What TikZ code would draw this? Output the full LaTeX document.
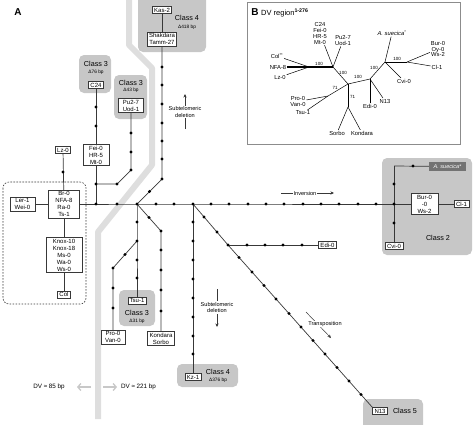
\documentclass[tikz,border=0pt]{standalone}
\usepackage{fontspec}
\setmainfont{Liberation Sans}
\usetikzlibrary{arrows.meta}

\definecolor{classgray}{gray}{0.78}
\definecolor{bandgray}{gray}{0.87}
\definecolor{linegray}{gray}{0.22}
\definecolor{suecgray}{gray}{0.45}
\definecolor{framegray}{gray}{0.55}

\begin{document}
\begin{tikzpicture}[x=1pt, y=-1pt,
  strain/.style={draw=linegray, fill=white, line width=0.5pt, inner xsep=1.8pt, inner ysep=1.2pt,
    align=center, font=\fontsize{6}{7}\selectfont},
  classbox/.style={fill=classgray, rounded corners=5pt},
  classname/.style={inner sep=0pt, font=\fontsize{7.2}{8}\selectfont},
  deltaname/.style={inner sep=0pt, font=\fontsize{4.8}{5}\selectfont},
  branch/.style={draw=linegray, line width=0.7pt},
  dashbox/.style={draw=linegray, line width=0.6pt, dash pattern=on 1.6pt off 1.4pt, rounded corners=6pt},
  event/.style={linegray, line width=0.5pt, -{Stealth[length=3.6pt,width=3.2pt]}},
  eventname/.style={fill=white, inner sep=0.8pt, align=center, font=\fontsize{5.6}{6.6}\selectfont},
  dvarrow/.style={bandgray!90!black, line width=1.3pt, -{Straight Barb[length=3pt,width=7pt]}},
  dvname/.style={inner sep=0pt, font=\fontsize{6.3}{7}\selectfont},
  leaf/.style={inner sep=0.8pt, align=center, font=\fontsize{5.8}{5.8}\selectfont},
  twig/.style={draw=black, line width=0.5pt},
  boot/.style={inner sep=0pt, font=\fontsize{4.5}{5}\selectfont},
]
  \useasboundingbox (0,0) rectangle (474,424);

  %% grey band between the two DV groups
  \draw[bandgray, line width=6pt, line join=round]
    (129,-4) -- (129,45) -- (152,68) -- (152,165) -- (98,232) -- (98,419);

  %% class backgrounds
  \fill[classbox] (79,55) rectangle (111,93);     %% Class 3, C24
  \fill[classbox] (114,75) rectangle (147,119);   %% Class 3, Pu2-7
  \fill[classbox] (138,-6) rectangle (206,52);    %% Class 4, Kas-2
  \fill[classbox] (119,290) rectangle (155,326);  %% Class 3, Tsu-1
  \fill[classbox] (177,364) rectangle (238,387);  %% Class 4, Kz-1
  \fill[classbox] (382,158) rectangle (472,255);  %% Class 2
  \fill[classbox] (363,399) rectangle (423,430);  %% Class 5
  \draw[dashbox] (3,182) rectangle (86,304);

  \node[inner sep=0pt, font=\bfseries\fontsize{10}{10}\selectfont] (labA) at (18,12) {A};

  %% strain boxes
  \node[strain, minimum width=31pt] (brbox) at (64,204) {Br-0\\NFA-8\\Ra-0\\Ts-1};
  \node[strain, minimum width=25pt] (lerbox) at (22.5,204) {Ler-1\\Wei-0};
  \node[strain] (lzbox) at (63,150) {Lz-0};
  \node[strain, minimum width=36pt] (knoxbox) at (64,255) {Knox-10\\Knox-18\\Ms-0\\Wa-0\\Ws-0};
  \node[strain] (colbox) at (64,294.5) {Col};
  \node[strain, minimum width=26pt] (feibox) at (96,155) {Fei-0\\HR-5\\Mt-0};
  \node[strain] (c24box) at (96,85) {C24};
  \node[strain, minimum width=25pt] (pubox) at (131,105.5) {Pu2-7\\Uod-1};
  \node[strain] (kasbox) at (162,10) {Kas-2};
  \node[strain] (shakbox) at (162,39) {Shakdara\\Tamm-27};
  \node[strain] (tsubox) at (137,300.5) {Tsu-1};
  \node[strain, minimum width=24pt] (probox) at (113,337) {Pro-0\\Van-0};
  \node[strain, minimum width=27pt] (kondbox) at (161,338.5) {Kondara\\Sorbo};
  \node[strain] (kzbox) at (193,377) {Kz-1};
  \node[strain] (edibox) at (327.5,245) {Edi-0};
  \node[strain] (n13box) at (380,411) {N13};
  \node[strain, minimum width=27pt] (burbox) at (424.5,204) {Bur-0\\-0\\Ws-2};
  \node[strain] (clbox) at (461.5,204) {Cl-1};
  \node[strain] (cvibox) at (394,246) {Cvi-0};
  \node[strain, draw=none, fill=suecgray, text=white, minimum width=37pt, minimum height=9pt,
    font=\itshape\fontsize{5.5}{6}\selectfont] (suecbox) at (447.5,166.5) {A. suecica*};

  %% class names
  \node[classname] (c3a) at (96,64) {Class 3};
  \node[deltaname] (d3a) at (96,72) {Δ76 bp};
  \node[classname] (c3b) at (131,83) {Class 3};
  \node[deltaname] (d3b) at (131,90.5) {Δ43 bp};
  \node[classname] (c4a) at (187,18) {Class 4};
  \node[deltaname] (d4a) at (187,27) {Δ418 bp};
  \node[classname] (c3c) at (137,313) {Class 3};
  \node[deltaname] (d3c) at (137,321) {Δ31 bp};
  \node[classname] (c4b) at (218,372) {Class 4};
  \node[deltaname] (d4b) at (218,380) {Δ376 bp};
  \node[classname] (c2) at (438,238) {Class 2};
  \node[classname] (c5) at (405,411) {Class 5};

  %% junctions and bends
  \coordinate (j1) at (137,204);
  \coordinate (j2) at (193,204);
  \coordinate (j3) at (394,204);
  \coordinate (feifoot) at (96,204);
  \coordinate (feiknee) at (96,184);
  \coordinate (pubend) at (117,184);
  \coordinate (puelbow) at (131,170);
  \coordinate (shakbend) at (162,179);
  \coordinate (kondknee) at (161,231);
  \coordinate (tsufork) at (137,241);
  \coordinate (proknee) at (113,268);
  \coordinate (edifork) at (228,245);
  \coordinate (suectop) at (394,166);

  %% connectors
  \draw[branch] (lerbox) -- (brbox);
  \draw[branch] (lzbox) -- (brbox);
  \draw[branch] (brbox) -- (knoxbox);
  \draw[branch] (knoxbox) -- (colbox);
  \draw[branch] (brbox) -- (j1) -- (j2) -- (j3);
  \draw[branch] (c24box) -- (feibox);
  \draw[branch] (feibox) -- (feifoot);
  \draw[branch] (feiknee) -- (pubend) -- (puelbow) -- (pubox);
  \draw[branch] (kasbox) -- (shakbox);
  \draw[branch] (shakbox) -- (shakbend) -- (j1);
  \draw[branch] (j1) -- (kondknee) -- (kondbox);
  \draw[branch] (j1) -- (tsufork) -- (tsubox);
  \draw[branch] (tsufork) -- (proknee) -- (probox);
  \draw[branch] (j2) -- (kzbox);
  \draw[branch] (j2) -- (edifork) -- (n13box.north west);
  \draw[branch] (edifork) -- (edibox);
  \draw[branch] (suectop) -- (cvibox);
  \draw[branch] (suectop) -- (suecbox);
  \draw[branch] (j3) -- (burbox) -- (clbox);

  %% mutation steps
  \foreach \x in {96,117,137,156,174,193,211,229,248,266,284,303,321,339,358,376,394}
    \fill (\x,204) circle (1.6pt);
  \foreach \y in {107,126,184} \fill (96,\y) circle (1.6pt);
  \foreach \y in {67,85,104,123,141,159,179} \fill (162,\y) circle (1.6pt);
  \foreach \y in {231,250,270,290,311} \fill (161,\y) circle (1.6pt);
  \foreach \y in {222,241,260,278} \fill (137,\y) circle (1.6pt);
  \foreach \y in {268,288,308} \fill (113,\y) circle (1.6pt);
  \foreach \y in {222,241,260,279,298,317,336,354} \fill (193,\y) circle (1.6pt);
  \foreach \x in {247,265,283,302} \fill (\x,245) circle (1.6pt);
  \foreach \x/\y in {63/172, 117/184, 131/170, 131/152, 131/133, 149.5/191.5, 149/217.5,
      125/254.5, 204/217, 217/232, 228/245, 239/257.5, 252/272, 264/285.5, 276/299,
      289/313.5, 301/327, 313/340.5, 325/354, 337/367.5, 349/381, 361/394.5,
      394/184, 394/223, 413/166}
    \fill (\x,\y) circle (1.6pt);

  %% events
  \coordinate (delupA) at (185,129);
  \coordinate (delupB) at (185,94);
  \draw[event] (delupA) -- (delupB);
  \node[eventname] (delupT) at (185,112) {Subtelomeric\\deletion};
  \coordinate (deldnA) at (217,289);
  \coordinate (deldnB) at (217,327);
  \draw[event] (deldnA) -- (deldnB);
  \node[eventname] (deldnT) at (217,307.5) {Subtelomeric\\deletion};
  \coordinate (invA) at (281,193);
  \coordinate (invB) at (334,193);
  \draw[event] (invA) -- (invB);
  \node[eventname] (invT) at (305,193) {Inversion};
  \coordinate (trA) at (306,312);
  \coordinate (trB) at (331,338);
  \draw[event] (trA) -- (trB);
  \node[eventname] (trT) at (325,324) {Transposition};

  %% DV groups
  \coordinate (dvlA) at (91,387);
  \coordinate (dvlB) at (77,387);
  \coordinate (dvrA) at (103,387);
  \coordinate (dvrB) at (117,387);
  \draw[dvarrow] (dvlA) -- (dvlB);
  \draw[dvarrow] (dvrA) -- (dvrB);
  \node[dvname] (dvl) at (49,387) {DV ≈ 85 bp};
  \node[dvname] (dvr) at (138.5,387) {DV ≈ 221 bp};

  %% panel B
  \draw[framegray, line width=0.9pt] (247,2) rectangle (460,144);
  \node[inner sep=0pt, font=\bfseries\fontsize{10}{10}\selectfont] (labB) at (255,12) {B};
  \node[inner sep=0pt, anchor=west, font=\fontsize{7.5}{8}\selectfont] (dvreg) at (261,13)
    {DV region\textsuperscript{\textbf{1-276}}};

  \coordinate (t1) at (309,67);
  \coordinate (t2) at (333,67);
  \coordinate (t3) at (348,84);
  \coordinate (t4) at (370,79);
  \coordinate (t5) at (328,96);
  \coordinate (t6) at (348,107);
  \coordinate (t7) at (385,62);
  \coordinate (t8) at (407,62);

  \node[leaf] (colL) at (277,56) {Col\textsuperscript{**}};
  \node[leaf] (nfaL) at (278,67) {NFA-8};
  \node[leaf] (lzL) at (280,77) {Lz-0};
  \node[leaf] (c24L) at (320,33.5) {C24\\Fei-0\\HR-5\\Mt-0};
  \node[leaf] (puL) at (343,40.5) {Pu2-7\\Uod-1};
  \node[leaf] (proL) at (298,101.5) {Pro-0\\Van-0};
  \node[leaf] (tsuL) at (303,113) {Tsu-1};
  \node[leaf] (sorL) at (337,133) {Sorbo};
  \node[leaf] (konL) at (362,133) {Kondara};
  \node[leaf] (ediL) at (370,106) {Edi-0};
  \node[leaf] (n13L) at (385,101) {N13};
  \node[leaf] (suecL) at (392,33) {\textit{A. suecica}\textsuperscript{*}};
  \node[leaf] (cviL) at (404,81) {Cvi-0};
  \node[leaf] (burL) at (438,49) {Bur-0\\Oy-0\\Ws-2};
  \node[leaf] (clL) at (437,67) {Cl-1};

  \draw[twig] (t1) -- (colL);
  \draw[twig, line width=1.2pt] (nfaL) -- (t1) -- (t2);
  \draw[twig] (t1) -- (lzL);
  \draw[twig] (t2) -- (c24L);
  \draw[twig] (t2) -- (puL);
  \draw[twig] (t2) -- (t3);
  \draw[twig] (t3) -- (t4);
  \draw[twig] (t3) -- (t5);
  \draw[twig] (t3) -- (t6);
  \draw[twig] (t5) -- (proL);
  \draw[twig] (t5) -- (tsuL);
  \draw[twig] (t6) -- (sorL);
  \draw[twig] (t6) -- (konL);
  \draw[twig] (t4) -- (t7);
  \draw[twig] (t4) -- (ediL);
  \draw[twig] (t4) -- (n13L);
  \draw[twig] (t7) -- (suecL);
  \draw[twig] (t7) -- (t8);
  \draw[twig] (t7) -- (cviL);
  \draw[twig] (t8) -- (burL);
  \draw[twig] (t8) -- (clL);

  %% bootstrap values
  \node[boot] (bs1) at (319,63.5) {100};
  \node[boot] (bs2) at (343,72.5) {100};
  \node[boot] (bs3) at (358,76.5) {100};
  \node[boot] (bs4) at (335,87.5) {71};
  \node[boot] (bs5) at (352.5,97) {71};
  \node[boot] (bs6) at (374,68) {100};
  \node[boot] (bs7) at (397,58.5) {100};
\end{tikzpicture}
\end{document}
